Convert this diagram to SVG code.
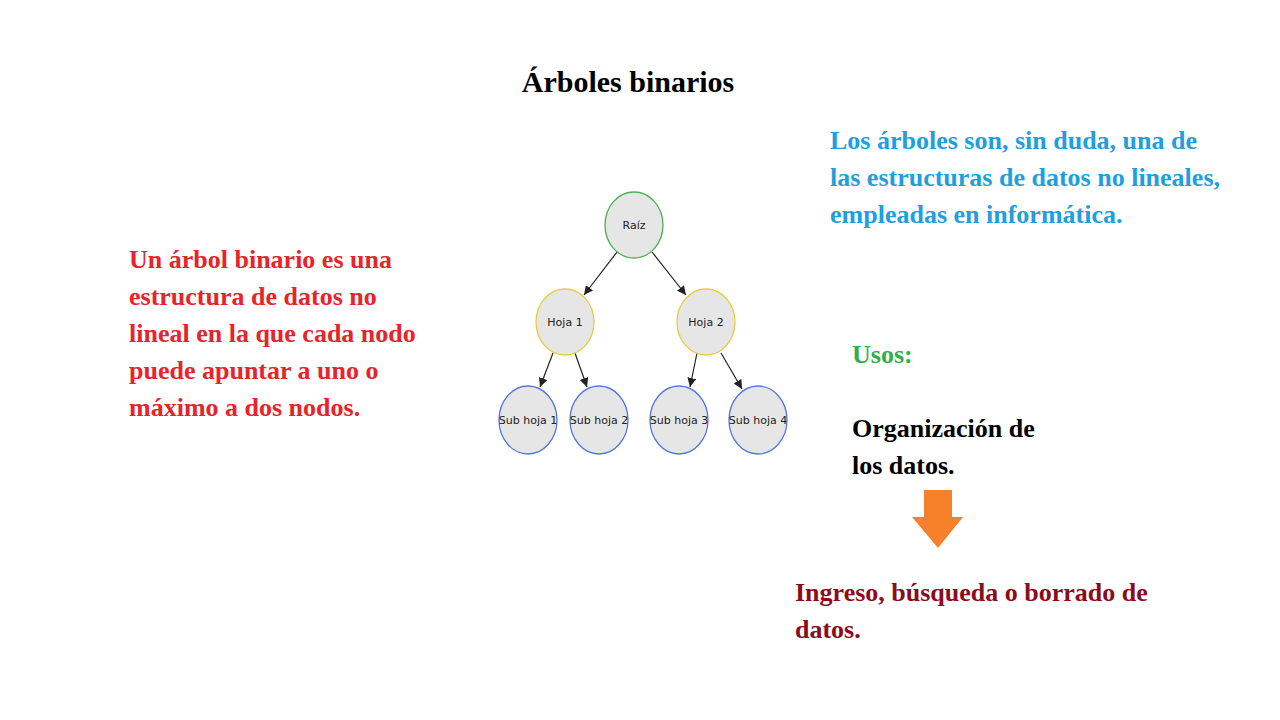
<svg xmlns="http://www.w3.org/2000/svg" width="1280" height="720" viewBox="0 0 1280 720">
<style>
.t{font-family:"Liberation Serif",serif;font-weight:bold;font-size:26px}
.n{fill:#e6e6e6;stroke-width:1.3}
.l{font-family:"DejaVu Sans","Liberation Sans",sans-serif;font-size:11px;fill:#222;text-anchor:middle}
.c{stroke:#222;stroke-width:1.2;fill:none;marker-end:url(#a)}
</style>
<defs>
<marker id="a" viewBox="0 0 10 10" refX="10" refY="5" markerWidth="9" markerHeight="9" orient="auto" markerUnits="userSpaceOnUse"><path d="M0,0L10,5L0,10z" fill="#222"/></marker>
<radialGradient id="g" cx="0.4" cy="0.35" r="0.7"><stop offset="0" stop-color="#f2f2f2"/><stop offset="1" stop-color="#d8d8d8"/></radialGradient>
</defs>
<rect width="1280" height="720" fill="#fff"/>
<text class="t" x="628" y="92" font-size="30" text-anchor="middle" style="font-size:30px">Árboles binarios</text>
<g fill="#e8232a" class="t">
<text class="t" x="129" y="268" fill="#e8232a">Un árbol binario es una</text>
<text class="t" x="129" y="305" fill="#e8232a">estructura de datos no</text>
<text class="t" x="129" y="342" fill="#e8232a">lineal en la que cada nodo</text>
<text class="t" x="129" y="379" fill="#e8232a">puede apuntar a uno o</text>
<text class="t" x="129" y="416" fill="#e8232a">máximo a dos nodos.</text>
</g>
<text class="t" x="830" y="149" fill="#1ea0e0">Los árboles son, sin duda, una de</text>
<text class="t" x="830" y="186" fill="#1ea0e0">las estructuras de datos no lineales,</text>
<text class="t" x="830" y="223" fill="#1ea0e0">empleadas en informática.</text>
<text class="t" x="852" y="363" fill="#2fb04a">Usos:</text>
<text class="t" x="852" y="437" fill="#000">Organización de</text>
<text class="t" x="852" y="474" fill="#000">los datos.</text>
<path d="M924,490H952V517H963L938,548L912,517H924Z" fill="#f7802a"/>
<text class="t" x="795" y="601" fill="#8b0d1c">Ingreso, búsqueda o borrado de</text>
<text class="t" x="795" y="638" fill="#8b0d1c">datos.</text>
<g id="connectors">
<line class="c" x1="617" y1="252" x2="584" y2="295"/>
<line class="c" x1="652" y1="252" x2="686" y2="295"/>
<line class="c" x1="553" y1="353" x2="540" y2="387"/>
<line class="c" x1="575" y1="353" x2="587" y2="387"/>
<line class="c" x1="697" y1="353" x2="690" y2="387"/>
<line class="c" x1="721" y1="353" x2="742" y2="389"/>
</g>
<g id="raiz"><ellipse class="n" cx="634" cy="225" rx="29" ry="33" fill="url(#g)" stroke="#4caf50"/><text class="l" x="634" y="229">Raíz</text></g>
<g id="hoja1"><ellipse class="n" cx="565" cy="322" rx="29" ry="33" fill="url(#g)" stroke="#e8cc40"/><text class="l" x="565" y="326">Hoja 1</text></g>
<g id="hoja2"><ellipse class="n" cx="706" cy="322" rx="29" ry="33" fill="url(#g)" stroke="#e8cc40"/><text class="l" x="706" y="326">Hoja 2</text></g>
<g id="sub1"><ellipse class="n" cx="528" cy="420" rx="29" ry="34" fill="url(#g)" stroke="#5577dd"/><text class="l" x="528" y="424">Sub hoja 1</text></g>
<g id="sub2"><ellipse class="n" cx="599" cy="420" rx="29" ry="34" fill="url(#g)" stroke="#5577dd"/><text class="l" x="599" y="424">Sub hoja 2</text></g>
<g id="sub3"><ellipse class="n" cx="679" cy="420" rx="29" ry="34" fill="url(#g)" stroke="#5577dd"/><text class="l" x="679" y="424">Sub hoja 3</text></g>
<g id="sub4"><ellipse class="n" cx="758" cy="420" rx="29" ry="34" fill="url(#g)" stroke="#5577dd"/><text class="l" x="758" y="424">Sub hoja 4</text></g>
</svg>
